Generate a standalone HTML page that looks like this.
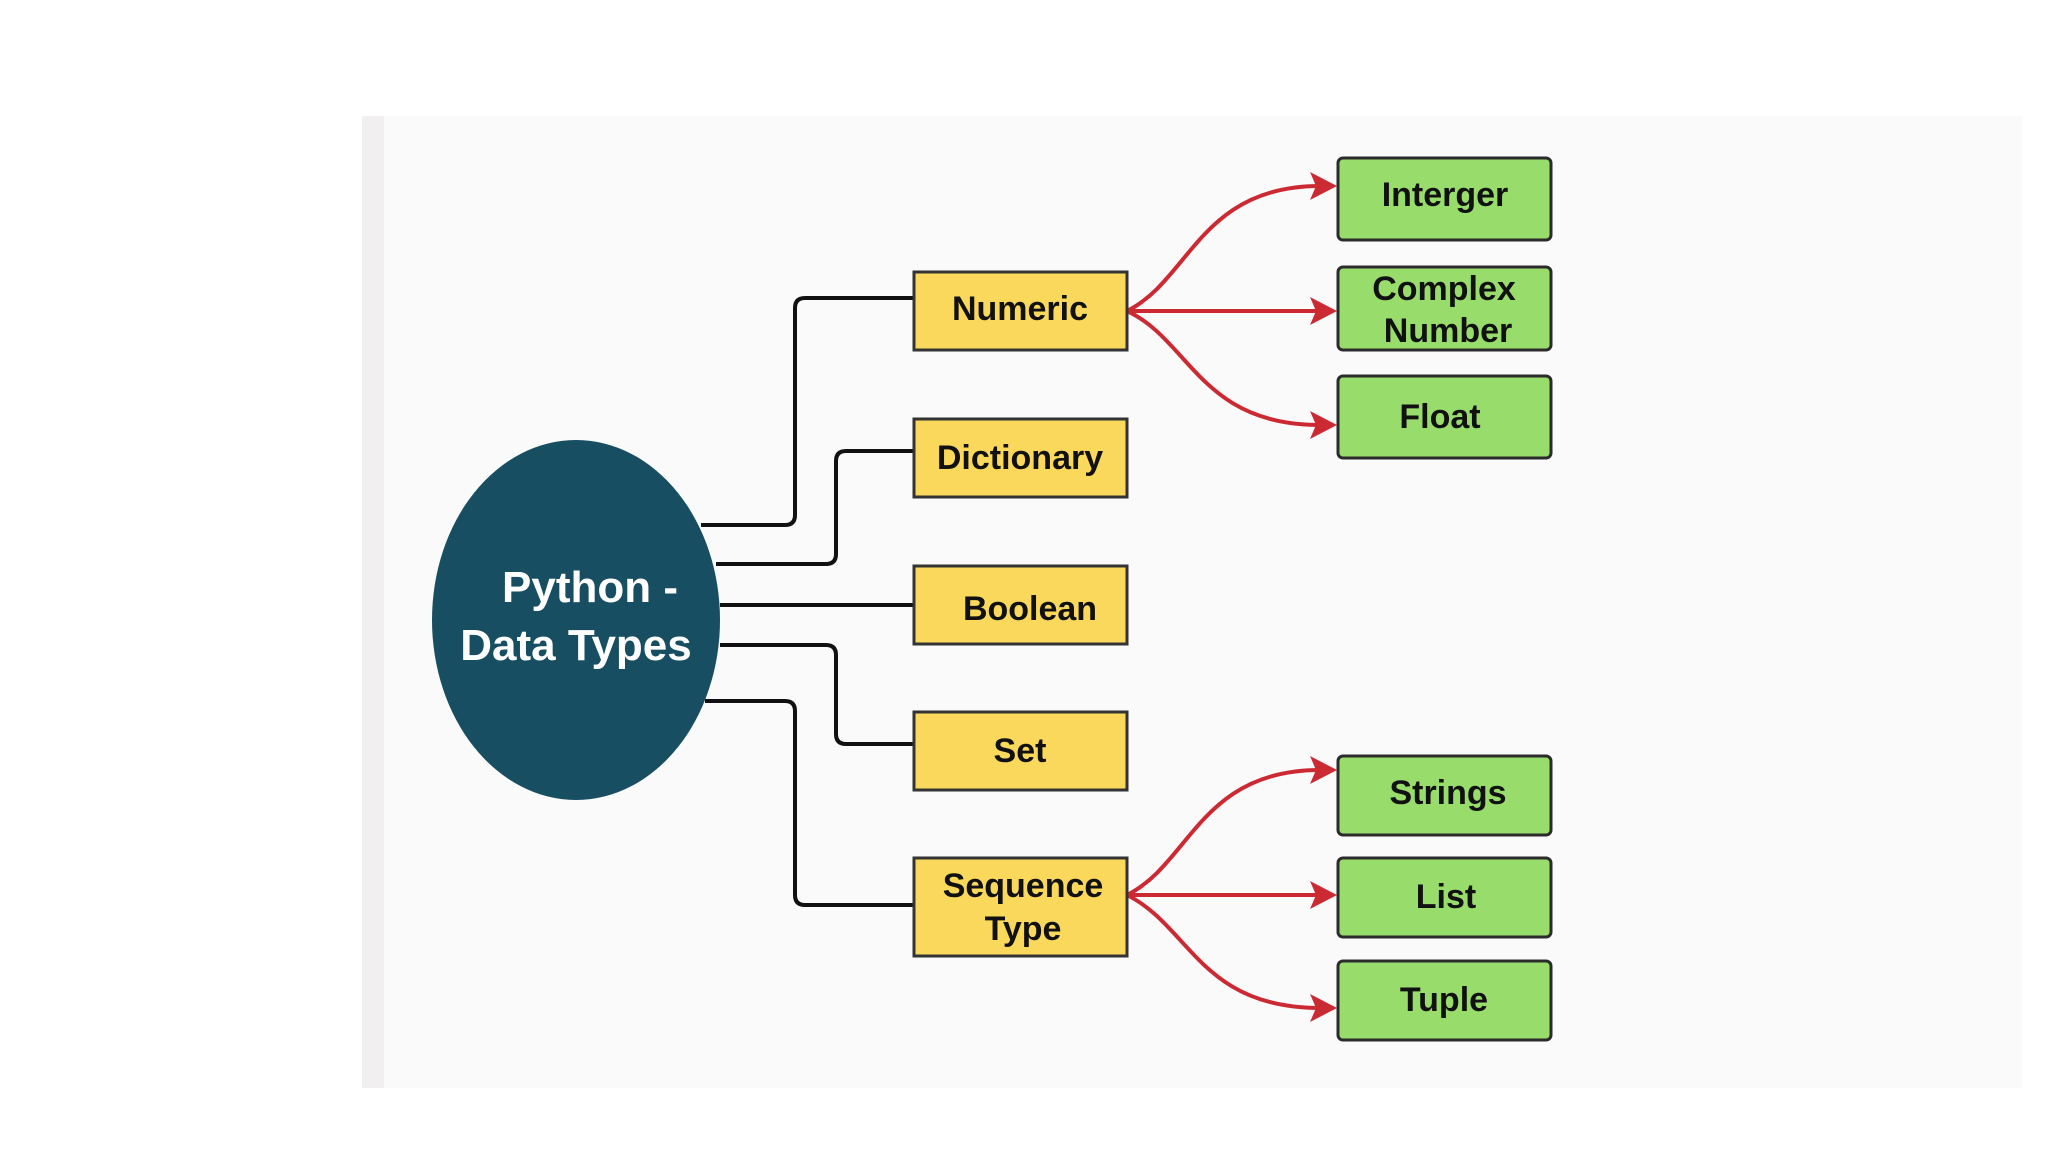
<!DOCTYPE html>
<html><head><meta charset="utf-8"><style>
html,body{margin:0;padding:0;background:#fff;}
svg{display:block;}
text{font-family:"Liberation Sans",Arial,sans-serif;font-weight:bold;}
</style></head><body>
<svg width="2048" height="1152" viewBox="0 0 2048 1152" xmlns="http://www.w3.org/2000/svg">
<defs>
<marker id="ar" viewBox="0 0 10 10" refX="9" refY="5" markerWidth="7" markerHeight="7" markerUnits="userSpaceOnUse" orient="auto">
</marker>
</defs>
<rect x="0" y="0" width="2048" height="1152" fill="#ffffff"/>
<rect x="362" y="116" width="1660" height="972" fill="#fbfafa"/>
<rect x="362" y="116" width="22" height="972" fill="#f1eff0"/>
<g fill="none" stroke="#111" stroke-width="4" stroke-linejoin="round">
<path d="M701 525 H785 Q795 525 795 515 V308 Q795 298 805 298 H914"/>
<path d="M716 564 H826 Q836 564 836 554 V461 Q836 451 846 451 H914"/>
<path d="M720 605 H914"/>
<path d="M720 645 H826 Q836 645 836 655 V734 Q836 744 846 744 H914"/>
<path d="M705 701 H785 Q795 701 795 711 V895 Q795 905 805 905 H914"/>
</g>
<ellipse cx="576" cy="620" rx="144" ry="180" fill="#174e61"/>
<text x="590" y="602" fill="#fff" font-size="44" text-anchor="middle">Python -</text>
<text x="576" y="660" fill="#fff" font-size="44" text-anchor="middle">Data Types</text>
<g fill="none" stroke="#cc2a33" stroke-width="4">
<path d="M1127 311 C1190 280 1200 186 1320 186"/>
<path d="M1127 311 H1320"/>
<path d="M1127 311 C1190 340 1200 425 1320 425"/>
<path d="M1127 895 C1190 864 1200 770 1320 770"/>
<path d="M1127 895 H1320"/>
<path d="M1127 895 C1190 926 1200 1008 1320 1008"/>
</g>
<g fill="#cc2a33">
<path d="M1337 186 L1310 172 L1316 186 L1310 200 Z"/>
<path d="M1337 311 L1310 297 L1316 311 L1310 325 Z"/>
<path d="M1337 425 L1310 411 L1316 425 L1310 439 Z"/>
<path d="M1337 770 L1310 756 L1316 770 L1310 784 Z"/>
<path d="M1337 895 L1310 881 L1316 895 L1310 909 Z"/>
<path d="M1337 1008 L1310 994 L1316 1008 L1310 1022 Z"/>
</g>
<g fill="#fad85b" stroke="#333" stroke-width="3">
<rect x="914" y="272" width="213" height="78"/>
<rect x="914" y="419" width="213" height="78"/>
<rect x="914" y="566" width="213" height="78"/>
<rect x="914" y="712" width="213" height="78"/>
<rect x="914" y="858" width="213" height="98"/>
</g>
<g fill="#98dc6c" stroke="#2b2b2b" stroke-width="3">
<rect x="1338" y="158" width="213" height="82" rx="5"/>
<rect x="1338" y="267" width="213" height="83" rx="5"/>
<rect x="1338" y="376" width="213" height="82" rx="5"/>
<rect x="1338" y="756" width="213" height="79" rx="5"/>
<rect x="1338" y="858" width="213" height="79" rx="5"/>
<rect x="1338" y="961" width="213" height="79" rx="5"/>
</g>
<g fill="#111" font-size="34" text-anchor="middle">
<text x="1020" y="320">Numeric</text>
<text x="1020" y="469">Dictionary</text>
<text x="1030" y="620">Boolean</text>
<text x="1020" y="762">Set</text>
<text x="1023" y="897">Sequence</text>
<text x="1023" y="940">Type</text>
<text x="1445" y="206">Interger</text>
<text x="1444" y="300">Complex</text>
<text x="1448" y="342">Number</text>
<text x="1440" y="428">Float</text>
<text x="1448" y="804">Strings</text>
<text x="1446" y="908">List</text>
<text x="1444" y="1011">Tuple</text>
</g>
</svg>
</body></html>
